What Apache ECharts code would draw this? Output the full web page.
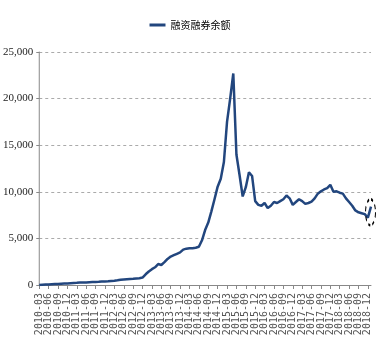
<!DOCTYPE html>
<html><head><meta charset="utf-8">
<script src="https://cdn.jsdelivr.net/npm/echarts@6/dist/echarts.min.js"></script>
<style>html,body{margin:0;padding:0;background:#fff}#c{width:380px;height:360px}</style>
</head><body><div id="c"></div>
<script>
// monthly categories 2010-03 .. 2019-01
var months = [];
(function(){ var y=2010,m=3; while(!(y===2019&&m===2)){ months.push(y+'-'+(m<10?'0'+m:m)); m++; if(m>12){m=1;y++;} } })();
var seriesName = '融资融券余额';
var balance = [
  0,30,50,60,80,100,110,130,150,170,
  190,210,230,260,270,280,300,320,330,340,
  370,380,390,420,450,500,560,590,620,650,
  670,700,730,800,1150,1450,1700,1900,2250,2150,
  2450,2800,3050,3200,3350,3500,3800,3900,3950,3950,
  4000,4100,4800,5900,6700,7900,9200,10550,11400,13200,
  17500,20000,22700,14000,11800,9500,10500,12100,11700,9000,
  8600,8500,8800,8250,8500,8900,8800,9000,9200,9600,
  9300,8600,8900,9200,9000,8700,8800,8950,9300,9800,
  10050,10250,10400,10750,10000,10050,9900,9800,9300,8900,
  8500,8000,7800,7700,7600,7220,8400
];
var yTicks = [0,5000,10000,15000,20000,25000];
function quarterly(i){ return i % 3 === 0; }

var chart = echarts.init(document.getElementById('c'), null, {renderer:'canvas'});
chart.setOption({
  animation:false,
  legend:{
    top:15, left:'center', itemWidth:16, itemHeight:3, itemGap:4,
    icon:'rect',
    textStyle:{fontFamily:'Noto Sans CJK SC', fontSize:10, color:'#000'},
    data:[seriesName]
  },
  grid:{left:34, right:9, top:52, bottom:75, containLabel:false},
  xAxis:{
    type:'category', data:months, boundaryGap:false,
    axisLine:{lineStyle:{color:'#888', width:1}},
    axisTick:{show:true, interval:quarterly, length:4, lineStyle:{color:'#888'}},
    axisLabel:{interval:0, rotate:90, showMinLabel:true, showMaxLabel:false, hideOverlap:false,
      formatter:function(v, i){ return quarterly(i) ? v : ''; },
      fontFamily:'DejaVu Sans Mono', fontSize:10, lineHeight:8, color:'#555', margin:8},
    splitLine:{show:false}
  },
  yAxis:{
    type:'value', min:0, max:25000, interval:5000,
    axisLine:{show:true, lineStyle:{color:'#888'}},
    axisTick:{show:true, length:3, lineStyle:{color:'#888'}},
    axisLabel:{fontFamily:'Liberation Serif', fontSize:11, color:'#222', margin:6,
      formatter:function(v){return v===0?'0':v.toLocaleString('en-US');}},
    splitLine:{show:true, lineStyle:{color:'#aaa', type:[3,3], width:1}}
  },
  series:[{
    name:seriesName, type:'line', data:balance, showSymbol:false, symbol:'none',
    lineStyle:{color:'#22467E', width:2.5}, itemStyle:{color:'#22467E'}
  }]
});
var last = balance.length-1;
var p = chart.convertToPixel({seriesIndex:0}, [last, 7800]);
chart.setOption({graphic:[{
  type:'circle', x:p[0]-0.5, y:p[1], scaleY:2.6,
  shape:{cx:0, cy:0, r:5},
  style:{fill:'none', stroke:'#000', lineWidth:1, lineDash:[2,2], strokeNoScale:true},
  z:100
}]});
</script></body></html>
